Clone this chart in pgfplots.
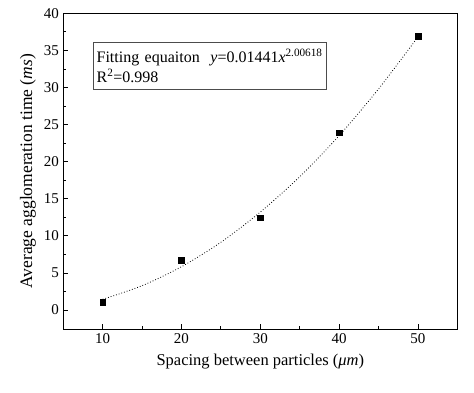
\documentclass[border=0pt]{standalone}
\usepackage{fontspec}
\setmainfont{Liberation Serif}
\usepackage{pgfplots}
\pgfplotsset{compat=1.18}
\begin{document}
\begin{tikzpicture}
\begin{axis}[
  scale only axis,
  width=394pt, height=316pt,
  xmin=5, xmax=55, ymin=-2.6, ymax=40,
  xtick={10,20,30,40,50},
  ytick={0,5,10,15,20,25,30,35,40},
  minor x tick num=1,
  minor y tick num=1,
  xtick pos=bottom, ytick pos=left,
  tick align=inside,
  major tick length=5pt, minor tick length=3pt,
  axis line style={line width=0.9pt},
  every tick/.style={line width=0.8pt, black},
  /pgf/number format/assume math mode=true,
  tick label style={font=\fontsize{15}{17}\selectfont},
  xticklabel style={yshift=-1pt},
  yticklabel style={xshift=-1pt},
  xlabel={Spacing between particles (\textit{μm})},
  ylabel={Average agglomeration time (\textit{ms})},
  xlabel style={font=\fontsize{16.5}{19}\selectfont, yshift=-3pt},
  ylabel style={font=\fontsize{17.5}{20}\selectfont, yshift=1pt},
  clip=false,
]
\addplot[black, dotted, line width=0.8pt, smooth] coordinates {
 (10,1.45) (15,3.28) (20,5.84) (25,9.14) (30,13.2) (35,17.97) (40,23.5) (45,29.8) (50,36.8)
};
\addplot[only marks, mark=square*, mark size=2.9pt, black] coordinates {
 (10,1.0) (20,6.74) (30,12.45) (40,23.9) (50,36.95)
};
\node[draw=black!70, line width=0.8pt, anchor=north west, inner xsep=3pt, inner ysep=2pt, minimum width=233pt, minimum height=47pt, align=left, text width=227pt, font=\fontsize{16}{20}\selectfont] at (axis cs:8.8,36.1)
  {Fitting equaiton\ \ \textit{y}=0.01441\textit{x}\textsuperscript{2.00618}\\R\textsuperscript{2}=0.998};
\end{axis}
\path (current axis.south west) ++(-63.3pt,-62.7pt) rectangle ++(474pt,392pt);
\end{tikzpicture}
\end{document}
